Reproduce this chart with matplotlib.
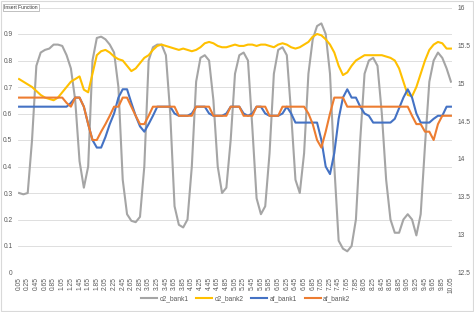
import matplotlib
matplotlib.use("Agg")
import matplotlib.pyplot as plt
from matplotlib.patches import Rectangle

plt.rcParams['font.family'] = ['Liberation Sans', 'DejaVu Sans']

# time samples (s), labelled every 0.2 s on the category axis
time = [round(0.05 + 0.1 * k, 2) for k in range(101)]

o2_bank1 = [
    0.30, 0.295, 0.30, 0.50, 0.78, 0.83, 0.84, 0.845, 0.86, 0.86,
    0.855, 0.82, 0.77, 0.65, 0.42, 0.32, 0.40, 0.80, 0.885, 0.89,
    0.88, 0.86, 0.83, 0.70, 0.35, 0.22, 0.195, 0.19, 0.21, 0.40,
    0.80, 0.85, 0.86, 0.86, 0.82, 0.60, 0.25, 0.18, 0.17, 0.20,
    0.40, 0.72, 0.81, 0.82, 0.80, 0.65, 0.40, 0.30, 0.32, 0.50,
    0.75, 0.82, 0.83, 0.80, 0.55, 0.28, 0.22, 0.25, 0.45, 0.75,
    0.84, 0.85, 0.82, 0.60, 0.35, 0.30, 0.45, 0.75, 0.88, 0.93,
    0.94, 0.90, 0.75, 0.40, 0.12, 0.09, 0.08, 0.10, 0.20, 0.50,
    0.75, 0.80, 0.81, 0.78, 0.60, 0.35, 0.20, 0.15, 0.15, 0.20,
    0.22, 0.20, 0.14, 0.22, 0.48, 0.72, 0.80, 0.83, 0.81, 0.77,
    0.72,
]

o2_bank2 = [
    0.73, 0.72, 0.71, 0.70, 0.685, 0.67, 0.66, 0.655, 0.65, 0.66,
    0.68, 0.70, 0.72, 0.73, 0.74, 0.69, 0.68, 0.75, 0.82, 0.835,
    0.84, 0.83, 0.815, 0.805, 0.80, 0.78, 0.76, 0.77, 0.79, 0.81,
    0.82, 0.84, 0.855, 0.86, 0.855, 0.85, 0.845, 0.84, 0.845, 0.84,
    0.835, 0.84, 0.85, 0.865, 0.87, 0.865, 0.855, 0.85, 0.85, 0.855,
    0.86, 0.855, 0.855, 0.86, 0.86, 0.855, 0.86, 0.86, 0.855, 0.85,
    0.86, 0.865, 0.86, 0.85, 0.845, 0.85, 0.86, 0.87, 0.89, 0.90,
    0.895, 0.88, 0.86, 0.83, 0.78, 0.745, 0.755, 0.78, 0.80, 0.81,
    0.82, 0.82, 0.82, 0.82, 0.82, 0.815, 0.81, 0.80, 0.77, 0.72,
    0.67, 0.665, 0.70, 0.75, 0.80, 0.84, 0.86, 0.87, 0.865, 0.845,
    0.845,
]

af_bank1 = [
    14.69, 14.69, 14.69, 14.69, 14.69, 14.69, 14.69, 14.69, 14.69, 14.69,
    14.69, 14.69, 14.74, 14.81, 14.81, 14.69, 14.46, 14.25, 14.15, 14.15,
    14.29, 14.46, 14.60, 14.81, 14.92, 14.92, 14.74, 14.57, 14.43, 14.36,
    14.46, 14.57, 14.69, 14.69, 14.69, 14.69, 14.60, 14.57, 14.57, 14.57,
    14.60, 14.69, 14.69, 14.69, 14.60, 14.57, 14.57, 14.57, 14.60, 14.69,
    14.69, 14.69, 14.60, 14.57, 14.60, 14.69, 14.69, 14.60, 14.57, 14.57,
    14.57, 14.60, 14.69, 14.60, 14.48, 14.48, 14.48, 14.48, 14.48, 14.48,
    14.25, 13.90, 13.80, 14.08, 14.53, 14.81, 14.92, 14.81, 14.81, 14.69,
    14.60, 14.57, 14.48, 14.48, 14.48, 14.48, 14.48, 14.53, 14.67, 14.81,
    14.92, 14.81, 14.60, 14.48, 14.48, 14.48, 14.53, 14.57, 14.57, 14.69,
    14.69,
]

af_bank2 = [
    14.81, 14.81, 14.81, 14.81, 14.81, 14.81, 14.81, 14.81, 14.81, 14.81,
    14.81, 14.74, 14.69, 14.81, 14.81, 14.69, 14.46, 14.25, 14.25, 14.36,
    14.46, 14.57, 14.69, 14.69, 14.81, 14.81, 14.69, 14.57, 14.46, 14.46,
    14.57, 14.69, 14.69, 14.69, 14.69, 14.69, 14.69, 14.57, 14.57, 14.57,
    14.57, 14.69, 14.69, 14.69, 14.69, 14.57, 14.57, 14.57, 14.57, 14.69,
    14.69, 14.69, 14.57, 14.57, 14.57, 14.69, 14.69, 14.69, 14.57, 14.57,
    14.57, 14.69, 14.69, 14.69, 14.69, 14.69, 14.69, 14.60, 14.46, 14.25,
    14.15, 14.36, 14.60, 14.81, 14.81, 14.81, 14.69, 14.69, 14.69, 14.69,
    14.69, 14.69, 14.69, 14.69, 14.69, 14.69, 14.69, 14.69, 14.69, 14.69,
    14.69, 14.57, 14.46, 14.46, 14.36, 14.36, 14.25, 14.46, 14.57, 14.57,
    14.57,
]

left_ticks = [0, 0.1, 0.2, 0.3, 0.4, 0.5, 0.6, 0.7, 0.8, 0.9, 1]
right_ticks = [12.5, 13, 13.5, 14, 14.5, 15, 15.5, 16]

label_col = '#595959'
fs = 4.8

fig = plt.figure(figsize=(4.74, 3.12), dpi=100)
ax = fig.add_axes([18 / 474, 1 - 272.5 / 312, 434 / 474, 265 / 312])
ax2 = ax.twinx()

idx = list(range(len(time)))
ax.plot(idx, o2_bank1, color='#A5A5A5', lw=1.5, label='o2_bank1')
ax.plot(idx, o2_bank2, color='#FFC000', lw=1.5, label='o2_bank2')
ax2.plot(idx, af_bank1, color='#4472C4', lw=1.5, label='af_bank1')
ax2.plot(idx, af_bank2, color='#ED7D31', lw=1.5, label='af_bank2')

ax.set_ylim(0, 1)
ax2.set_ylim(12.5, 16)
ax.set_xlim(-0.25, len(time) - 0.75)
ax.set_yticks(left_ticks)
# the top "1" label sits under the Insert Function tooltip in the screenshot
ax.set_yticklabels([f'{v:g}' if v < 1 else '' for v in left_ticks])
ax2.set_yticks(right_ticks)
ax2.set_yticklabels([f'{v:g}' for v in right_ticks])
ax.set_xticks(idx[::2])
ax.set_xticklabels([f'{t:.2f}' for t in time[::2]], rotation=90)

ax.grid(axis='y', color='#D9D9D9', lw=0.6)
ax.set_axisbelow(True)
for a in (ax, ax2):
    for s in a.spines.values():
        s.set_visible(False)
    a.tick_params(length=0, labelsize=fs, labelcolor=label_col)
ax.tick_params(axis='x', pad=3)
ax.tick_params(axis='y', pad=4)
ax2.tick_params(axis='y', pad=4)
ax.axhline(0, color='#D9D9D9', lw=0.6)

h1, l1 = ax.get_legend_handles_labels()
h2, l2 = ax2.get_legend_handles_labels()
fig.legend(h1 + h2, l1 + l2, loc='center', bbox_to_anchor=(0.518, 1 - 299 / 312),
           ncol=4, frameon=False, fontsize=fs, handlelength=2.4,
           columnspacing=1.2, handletextpad=0.3, labelcolor=label_col)

fig.patches.append(Rectangle((0.002, 0.003), 0.996, 0.994, transform=fig.transFigure,
                             fill=False, edgecolor='#D9D9D9', lw=0.8))
fig.text(0.008, 0.985, 'Insert Function', fontsize=3.6, color='#333333', va='top',
         bbox=dict(facecolor='white', edgecolor='#A6A6A6', lw=0.5, pad=0.8))

fig.savefig('out.png', dpi=100)
